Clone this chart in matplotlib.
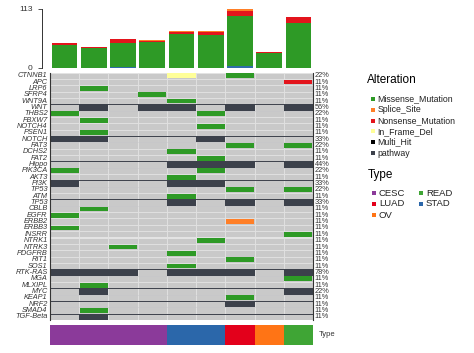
import matplotlib
matplotlib.use("Agg")
import matplotlib.pyplot as plt
from matplotlib.patches import Rectangle

plt.rcParams['font.family'] = ['Liberation Sans', 'DejaVu Sans']

# genes / pathways, top to bottom
genes = ["CTNNB1", "APC", "LRP6", "SFRP4", "WNT9A", "WNT",
         "THBS2", "FBXW7", "NOTCH4", "PSEN1", "NOTCH",
         "FAT3", "DCHS2", "FAT2", "Hippo",
         "PIK3CA", "AKT3", "PI3K",
         "TP53", "ATM", "TP53",
         "CBLB", "EGFR", "ERBB2", "ERBB3", "INSRR", "NTRK1", "NTRK3",
         "PDGFRB", "RIT1", "SOS1", "RTK-RAS",
         "MGA", "MLXIPL", "MYC",
         "KEAP1", "NRF2",
         "SMAD4", "TGF-Beta"]

# one string per row, one char per sample
# M missense, S splice, N nonsense, I in-frame del, P pathway hit
calls = ["....I.M..", "........N", ".M.......", "...M.....", "....M....", ".P.PP.P.P",
         "M....M...", ".M.......", ".....M...", ".M.......", "PP...P...",
         "......M.M", "....M....", ".....M...", "....PPP.P",
         "M....M...", "....M....", "P...PP...",
         "......M.M", "....M....", "....P.P.P",
         ".M.......", "M........", "......S..", "M........", "........M",
         ".....M...", "..M......",
         "....M....", "......M..", "....M....", "PPP.PPP.P",
         "........M", ".M.......", ".P......P",
         "......M..", "......P..",
         ".M.......", ".P......."]

# mutation burden per sample (top bars)
tmb_other = [0, 0, 1, 0, 0, 0, 3, 0, 0]
tmb_missense = [44, 39, 47, 50, 65, 63, 96, 28, 87]
tmb_nonsense = [3, 2, 8, 2, 3, 5, 10, 3, 10]
tmb_splice = [0, 0, 0, 2, 2, 2, 4, 0, 0]

sample_type = ["CESC", "CESC", "CESC", "CESC", "STAD", "STAD", "LUAD", "OV", "READ"]

alt_colors = {"M": "#2E9A26", "S": "#FF7F27", "N": "#E3141C",
              "I": "#FFFF99", "H": "#000000", "P": "#3C414B"}
alt_names = [("Missense_Mutation", "M"), ("Splice_Site", "S"),
             ("Nonsense_Mutation", "N"), ("In_Frame_Del", "I"),
             ("Multi_Hit", "H"), ("pathway", "P")]
type_colors = {"CESC": "#8B3A9A", "LUAD": "#E3001B", "OV": "#FF7415",
               "READ": "#3FA535", "STAD": "#2B67AA"}

n_s = len(sample_type)
n_g = len(genes)
bg = "#C9C9C9"

fig = plt.figure(figsize=(4.74, 3.53), dpi=100)
W, H = 474, 353


def box(x0, y0, x1, y1):
    return [x0 / W, 1 - y1 / H, (x1 - x0) / W, (y1 - y0) / H]


# top bar chart
ax_top = fig.add_axes(box(50, 9, 313, 68))
xs = list(range(n_s))
b = [0] * n_s
for vals, col in [(tmb_other, "#2F6DA8"), (tmb_missense, alt_colors["M"]),
                  (tmb_nonsense, alt_colors["N"]), (tmb_splice, alt_colors["S"])]:
    ax_top.bar([x + 0.5 for x in xs], vals, bottom=b, width=0.88, color=col)
    b = [p + q for p, q in zip(b, vals)]
ax_top.set_xlim(0, n_s)
ax_top.set_ylim(0, 113)
ax_top.set_yticks([0, 113])
ax_top.tick_params(axis='y', labelsize=6, length=3, width=0.6, colors="#333333")
ax_top.set_xticks([])
for s in ["top", "right", "bottom"]:
    ax_top.spines[s].set_visible(False)
ax_top.spines["left"].set_position(("outward", 6))
ax_top.spines["left"].set_linewidth(0.7)
ax_top.spines["left"].set_color("#333333")

# oncoprint grid
ax = fig.add_axes(box(50, 72.5, 313, 320))
ax.set_xlim(0, n_s)
ax.set_ylim(n_g, 0)
for r, row in enumerate(calls):
    for c, ch in enumerate(row):
        ax.add_patch(Rectangle((c, r), 1, 1, facecolor=bg, edgecolor="#E4E4E4", lw=0.5))
        if ch == "P":
            ax.add_patch(Rectangle((c, r), 1, 1, facecolor=alt_colors["P"], lw=0))
        elif ch != ".":
            ax.add_patch(Rectangle((c + 0.02, r + 0.12), 0.96, 0.76,
                                   facecolor=alt_colors[ch], lw=0))
    if "P" in row:
        ax.add_patch(Rectangle((0, r), n_s, 1, fill=False, edgecolor=alt_colors["P"], lw=0.7))
    pct = round(100 * sum(ch != "." for ch in row) / n_s)
    ax.text(n_s + 0.05, r + 0.5, f"{pct}%", fontsize=5.3, va="center", ha="left", color="#333333")
    ax.text(-0.08, r + 0.5, genes[r], fontsize=5.3, style="italic", va="center", ha="right",
            color="#333333")
ax.set_xticks([])
ax.set_yticks([])
for s in ["top", "bottom"]:
    ax.spines[s].set_visible(False)
for s in ["left", "right"]:
    ax.spines[s].set_linewidth(0.8)
    ax.spines[s].set_color("#333333")

# sample type annotation bar
ax_t = fig.add_axes(box(50, 325, 313, 345))
ax_t.bar([x + 0.5 for x in xs], [1] * n_s, width=1.0,
         color=[type_colors[t] for t in sample_type])
ax_t.set_xlim(0, n_s)
ax_t.set_ylim(0, 1)
ax_t.axis("off")
ax_t.text(n_s + 0.2, 0.5, "Type", fontsize=5.5, va="center", ha="left", color="#333333")

# legends
lg = fig.add_axes([0, 0, 1, 1])
lg.set_xlim(0, W)
lg.set_ylim(H, 0)
lg.axis("off")
lg.text(367, 80, "Alteration", fontsize=8.5, va="center", ha="left")
for i, (name, k) in enumerate(alt_names):
    y = 99 + i * 10.8
    lg.scatter([373], [y], s=7, marker="s", color=alt_colors[k], lw=0)
    lg.text(377.5, y, name, fontsize=6.3, va="center", ha="left", color="#222222")
lg.text(368, 175, "Type", fontsize=8.5, va="center", ha="left")
type_pos = [("CESC", 374, 193), ("READ", 421, 193), ("LUAD", 374, 204),
            ("STAD", 421, 204), ("OV", 374, 215)]
for t, x, y in type_pos:
    lg.scatter([x], [y], s=7, marker="s", color=type_colors[t], lw=0)
    lg.text(x + 5, y, t, fontsize=6.8, va="center", ha="left", color="#222222")

fig.savefig("out.png", dpi=100)
